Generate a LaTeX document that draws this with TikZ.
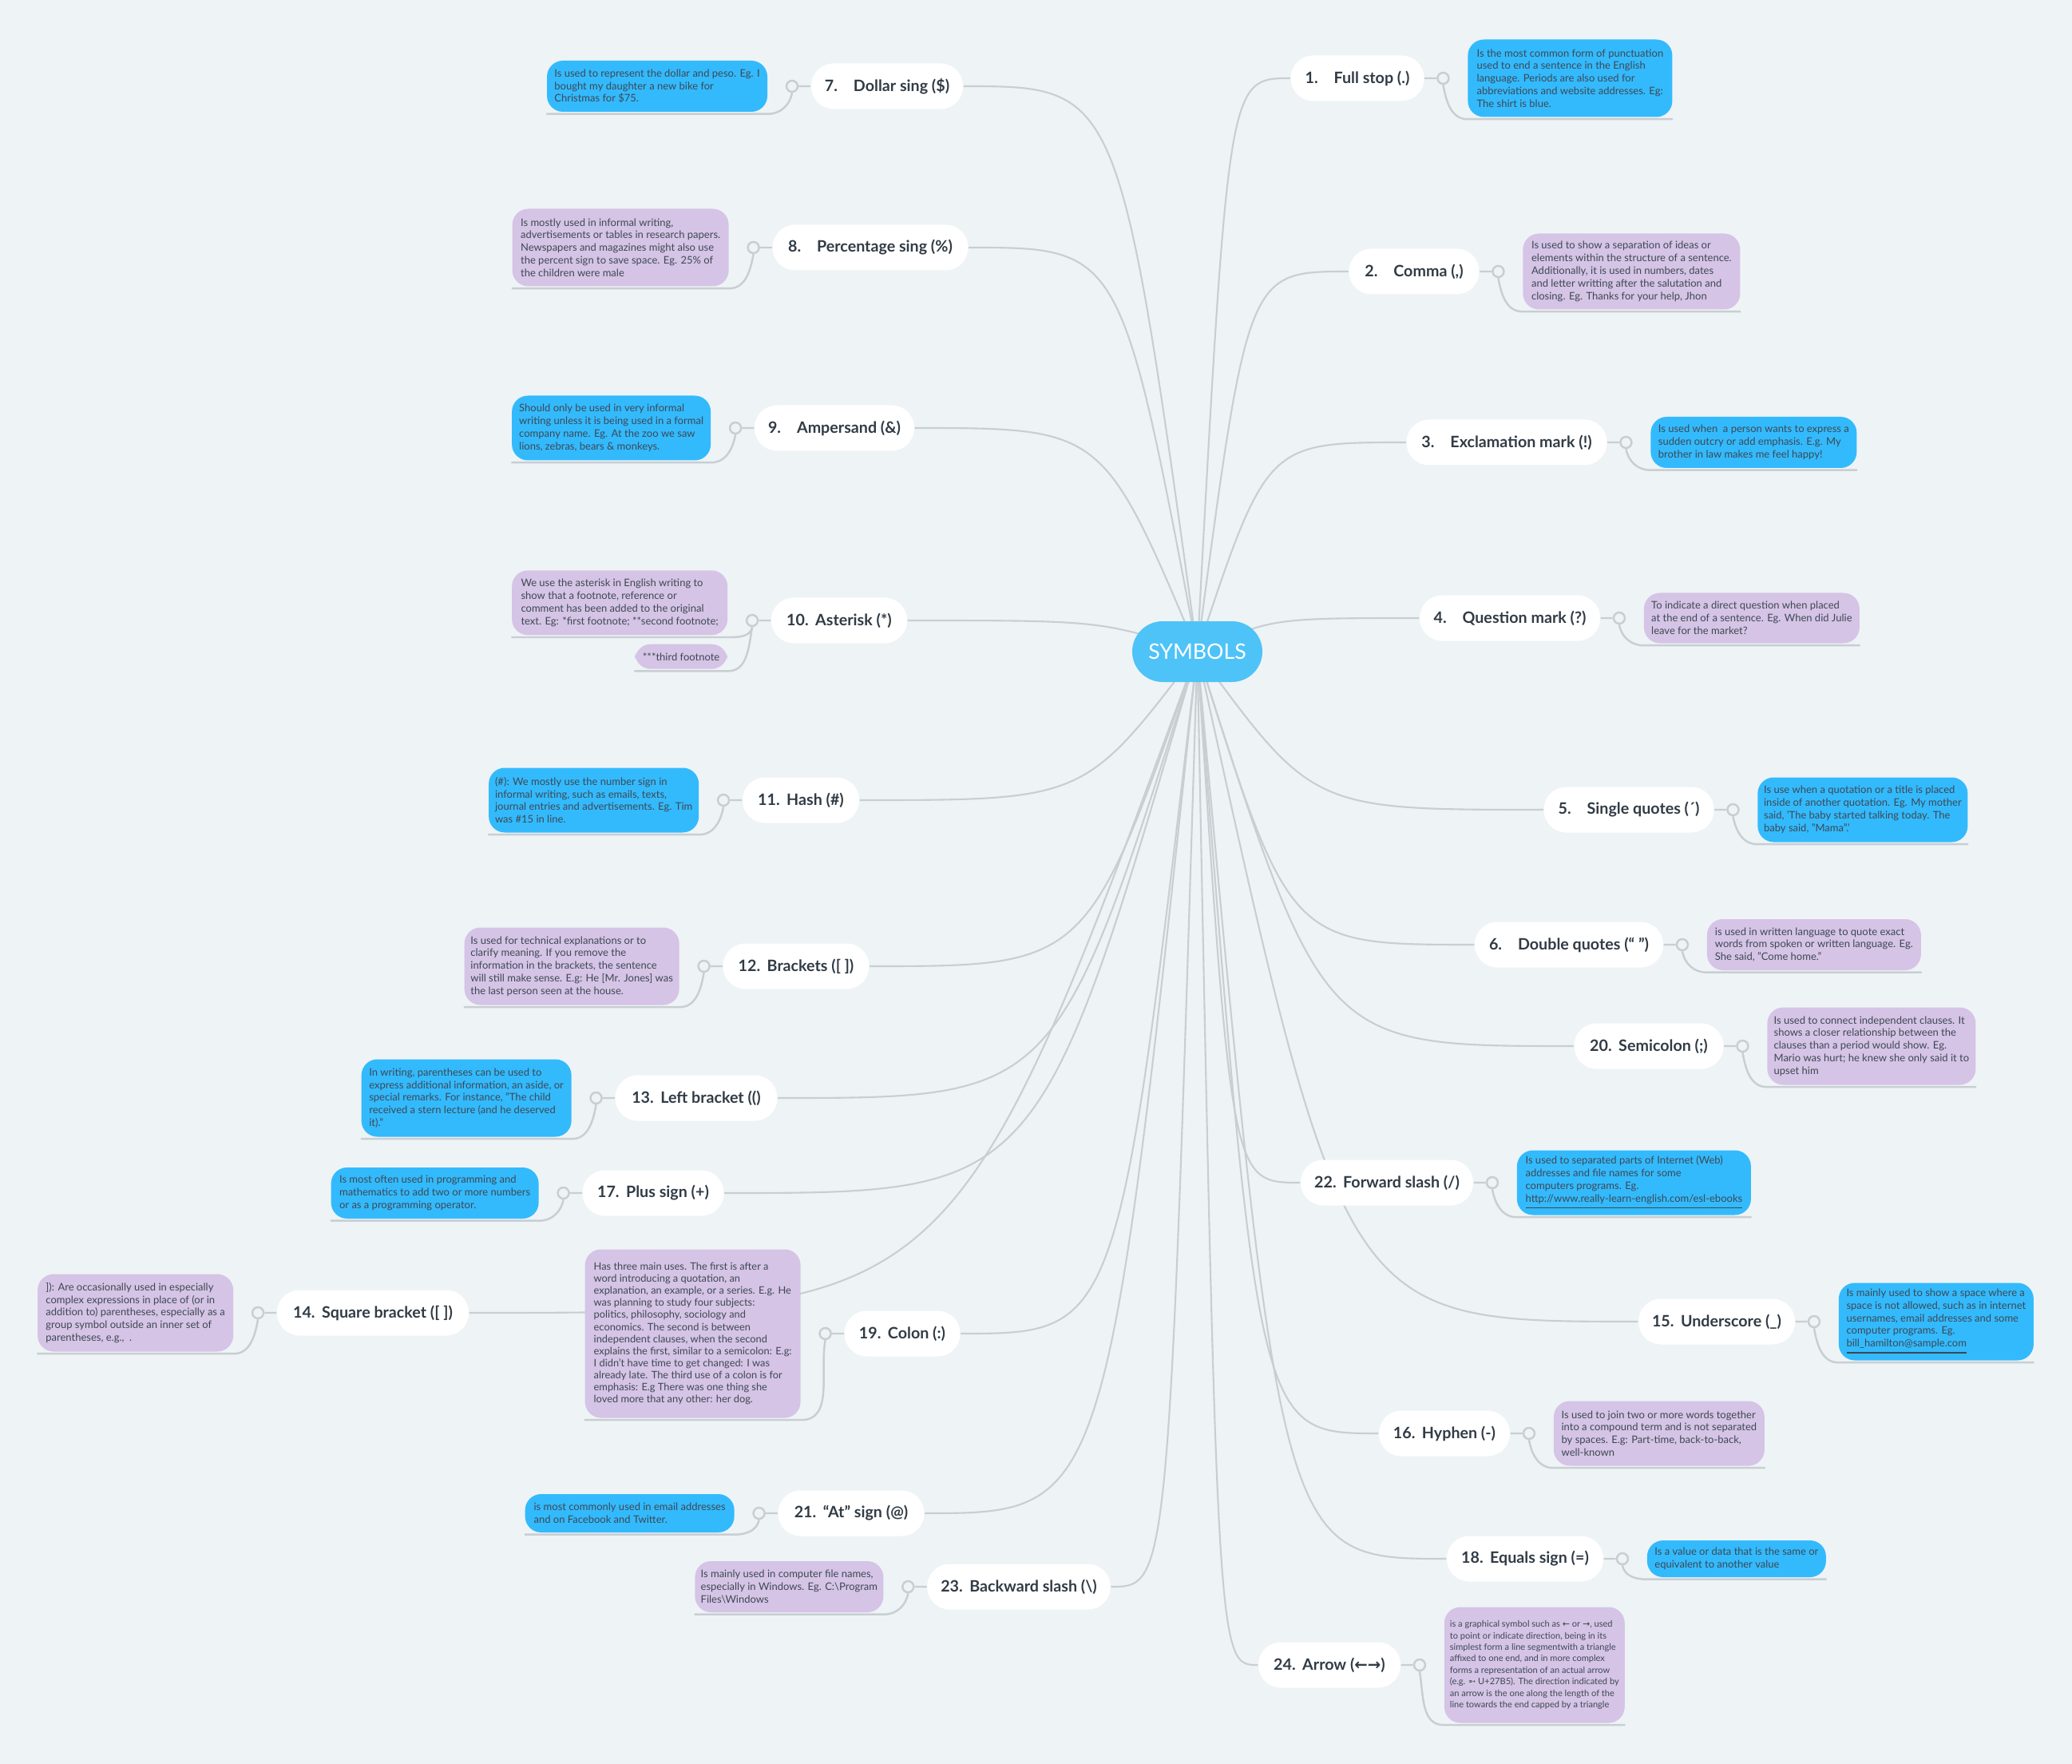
\documentclass[tikz,border=0pt]{standalone}
\usepackage{fontspec}
\setmainfont{Lato}
\newfontfamily\arrowfont{DejaVu Sans}
\usetikzlibrary{positioning,calc}
\definecolor{bgcol}{HTML}{EEF3F6}
\definecolor{linecol}{HTML}{C9CED3}
\definecolor{hubcol}{HTML}{4EC3F8}
\definecolor{skyblue}{HTML}{33BAFD}
\definecolor{lilac}{HTML}{D5C4E6}
\definecolor{inkcol}{HTML}{313B45}
\definecolor{notetext}{HTML}{3E4853}
\pgfdeclarelayer{bg}
\pgfdeclarelayer{edges}
\pgfsetlayers{bg,edges,main}
\newcommand{\tabno}[1]{\makebox[0.36cm][l]{#1}}
\newcommand{\notesize}{\fontsize{3.7}{4.5}\selectfont}

\begin{document}
\begin{tikzpicture}[
  hub/.style={fill=hubcol, text=white, rounded corners=0.38cm, minimum width=1.63cm, minimum height=0.76cm, font=\fontsize{7.6}{9}\selectfont},
  topic/.style={fill=white, text=inkcol, rounded corners=0.28cm, minimum height=0.57cm, inner xsep=0.17cm, font=\bfseries\fontsize{5.6}{6.7}\selectfont},
  dot/.style={circle, draw=linecol, fill=bgcol, line width=0.7pt, inner sep=0pt, minimum size=0.14cm},
  note/.style={rounded corners=0.2cm, align=left, inner xsep=0.07cm, inner ysep=0.06cm, font=\notesize, text=notetext},
  bnote/.style={note, fill=skyblue},
  pnote/.style={note, fill=lilac},
  limb/.style={draw=linecol, line width=0.6pt, to path={let \p1=(\tikztostart), \p2=(\tikztotarget) in .. controls ({\x1+(\x2-\x1)/3},\y2) .. (\tikztotarget)}},
  twig/.style={draw=linecol, line width=0.7pt}]
  \useasboundingbox (0,0) rectangle (25.95,-22.09);
  \begin{pgfonlayer}{bg}
    \fill[bgcol] (0,0) rectangle (25.95,-22.09);
  \end{pgfonlayer}

  \node[hub] (root) at (14.995,-8.16) {SYMBOLS};

  % right branches
  \node[topic, minimum width=1.67cm] (s1) at (17.00,-0.98) {\tabno{1.}Full stop (.)};
  \node[dot, right=0.15cm of s1] (c1) {};
  \node[bnote, right=0.22cm of c1, minimum width=2.56cm, minimum height=0.97cm] (n1) {Is the most common form of punctuation\\used to end a sentence in the English\\language. Periods are also used for\\abbreviations and website addresses. Eg:\\The shirt is blue.};

  \node[topic, minimum width=1.63cm] (s2) at (17.71,-3.40) {\tabno{2.}Comma (,)};
  \node[dot, right=0.15cm of s2] (c2) {};
  \node[pnote, right=0.22cm of c2, minimum width=2.72cm, minimum height=0.95cm] (n2) {Is used to show a separation of ideas or\\elements within the structure of a sentence.\\Additionally, it is used in numbers, dates\\and letter writting after the salutation and\\closing. Eg. Thanks for your help, Jhon};

  \node[topic, minimum width=2.51cm] (s3) at (18.87,-5.54) {\tabno{3.}Exclamation mark (!)};
  \node[dot, right=0.15cm of s3] (c3) {};
  \node[bnote, right=0.22cm of c3, minimum width=2.58cm, minimum height=0.64cm] (n3) {Is used when\ \ a person wants to express a\\sudden outcry or add emphasis. E.g. My\\brother in law makes me feel happy!};

  \node[topic, minimum width=2.26cm] (s4) at (18.91,-7.74) {\tabno{4.}Question mark (?)};
  \node[dot, right=0.15cm of s4] (c4) {};
  \node[pnote, right=0.22cm of c4, minimum width=2.70cm, minimum height=0.63cm] (n4) {To indicate a direct question when placed\\at the end of a sentence. Eg. When did Julie\\leave for the market?};

  \node[topic, minimum width=2.13cm] (s5) at (20.40,-10.14) {\tabno{5.}Single quotes (´)};
  \node[dot, right=0.15cm of s5] (c5) {};
  \node[bnote, right=0.22cm of c5, minimum width=2.63cm, minimum height=0.81cm] (n5) {Is use when a quotation or a title is placed\\inside of another quotation. Eg. My mother\\said, 'The baby started talking today. The\\baby said, "Mama".'};

  \node[topic, minimum width=2.36cm] (s6) at (19.65,-11.83) {\tabno{6.}Double quotes (“ ”)};
  \node[dot, right=0.15cm of s6] (c6) {};
  \node[pnote, right=0.22cm of c6, minimum width=2.68cm, minimum height=0.64cm] (n6) {is used in written language to quote exact\\words from spoken or written language. Eg.\\She said, "Come home."};

  \node[topic, minimum width=1.87cm] (s20) at (20.65,-13.10) {\tabno{20.}Semicolon (;)};
  \node[dot, right=0.15cm of s20] (c20) {};
  \node[pnote, right=0.22cm of c20, minimum width=2.61cm, minimum height=0.97cm] (n20) {Is used to connect independent clauses. It\\shows a closer relationship between the\\clauses than a period would show. Eg.\\Mario was hurt; he knew she only said it to\\upset him};

  \node[topic, minimum width=2.16cm] (s22) at (17.37,-14.81) {\tabno{22.}Forward slash (/)};
  \node[dot, right=0.15cm of s22] (c22) {};
  \node[bnote, right=0.22cm of c22, minimum width=2.93cm, minimum height=0.81cm] (n22) {Is used to separated parts of Internet (Web)\\addresses and file names for some\\computers programs. Eg.\\\underline{http://www.really-learn-english.com/esl-ebooks}};

  \node[topic, minimum width=1.96cm] (s15) at (21.50,-16.55) {\tabno{15.}Underscore (\_)};
  \node[dot, right=0.15cm of s15] (c15) {};
  \node[bnote, right=0.22cm of c15, minimum width=2.44cm, minimum height=0.97cm] (n15) {Is mainly used to show a space where a\\space is not allowed, such as in internet\\usernames, email addresses and some\\computer programs. Eg.\\\underline{bill\_hamilton@sample.com}};

  \node[topic, minimum width=1.64cm] (s16) at (18.09,-17.95) {\tabno{16.}Hyphen (-)};
  \node[dot, right=0.15cm of s16] (c16) {};
  \node[pnote, right=0.22cm of c16, minimum width=2.64cm, minimum height=0.81cm] (n16) {Is used to join two or more words together\\into a compound term and is not separated\\by spaces. E.g: Part-time, back-to-back,\\well-known};

  \node[topic, minimum width=1.96cm] (s18) at (19.10,-19.52) {\tabno{18.}Equals sign (=)};
  \node[dot, right=0.15cm of s18] (c18) {};
  \node[bnote, right=0.22cm of c18, minimum width=2.24cm, minimum height=0.46cm] (n18) {Is a value or data that is the same or\\equivalent to another value};

  \node[topic, minimum width=1.78cm] (s24) at (16.65,-20.85) {\tabno{24.}Arrow ({\arrowfont ←→})};
  \node[dot, right=0.15cm of s24] (c24) {};
  \node[pnote, right=0.22cm of c24, minimum width=2.21cm, minimum height=1.45cm, font=\fontsize{3.15}{4.1}\selectfont] (n24) {is a graphical symbol such as {\arrowfont ←} or {\arrowfont →}, used\\to point or indicate direction, being in its\\simplest form a line segmentwith a triangle\\affixed to one end, and in more complex\\forms a representation of an actual arrow\\(e.g. {\arrowfont ➵} U+27B5). The direction indicated by\\an arrow is the one along the length of the\\line towards the end capped by a triangle};

  % left branches
  \node[topic, minimum width=1.90cm] (s7) at (11.11,-1.08) {\tabno{7.}Dollar sing (\$)};
  \node[dot, left=0.15cm of s7] (c7) {};
  \node[bnote, left=0.22cm of c7, minimum width=2.76cm, minimum height=0.64cm] (n7) {Is used to represent the dollar and peso. Eg. I\\bought my daughter a new bike for\\Christmas for \$75.};

  \node[topic, minimum width=2.45cm] (s8) at (10.90,-3.10) {\tabno{8.}Percentage sing (\%)};
  \node[dot, left=0.15cm of s8] (c8) {};
  \node[pnote, left=0.22cm of c8, minimum width=2.71cm, minimum height=0.97cm] (n8) {Is mostly used in informal writing,\\advertisements or tables in research papers.\\Newspapers and magazines might also use\\the percent sign to save space. Eg. 25\% of\\the children were male};

  \node[topic, minimum width=2.00cm] (s9) at (10.45,-5.36) {\tabno{9.}Ampersand (\&)};
  \node[dot, left=0.15cm of s9] (c9) {};
  \node[bnote, left=0.22cm of c9, minimum width=2.49cm, minimum height=0.81cm] (n9) {Should only be used in very informal\\writing unless it is being used in a formal\\company name. Eg. At the zoo we saw\\lions, zebras, bears \& monkeys.};

  \node[topic, minimum width=1.70cm] (s10) at (10.51,-7.77) {\tabno{10.}Asterisk (*)};
  \node[dot, left=0.15cm of s10] (c10) {};
  \node[pnote, above left=-0.19cm and 0.22cm of c10.west, minimum width=2.70cm, minimum height=0.81cm] (n10a) {We use the asterisk in English writing to\\show that a footnote, reference or\\comment has been added to the original\\text. Eg: *first footnote; **second footnote;};
  \node[pnote, below=0.10cm of n10a.south east, anchor=north east, minimum width=1.16cm, minimum height=0.31cm] (n10b) {***third footnote};

  \node[topic, minimum width=1.46cm] (s11) at (10.03,-10.02) {\tabno{11.}Hash (\#)};
  \node[dot, left=0.15cm of s11] (c11) {};
  \node[bnote, left=0.22cm of c11, minimum width=2.63cm, minimum height=0.81cm] (n11) {(\#): We mostly use the number sign in\\informal writing, such as emails, texts,\\journal entries and advertisements. Eg. Tim\\was \#15 in line.};

  \node[topic, minimum width=1.83cm] (s12) at (9.97,-12.10) {\tabno{12.}Brackets ([ ])};
  \node[dot, left=0.15cm of s12] (c12) {};
  \node[pnote, left=0.22cm of c12, minimum width=2.69cm, minimum height=0.97cm] (n12) {Is used for technical explanations or to\\clarify meaning. If you remove the\\information in the brackets, the sentence\\will still make sense. E.g: He [Mr. Jones] was\\the last person seen at the house.};

  \node[topic, minimum width=2.03cm] (s13) at (8.72,-13.75) {\tabno{13.}Left bracket (()};
  \node[dot, left=0.15cm of s13] (c13) {};
  \node[bnote, left=0.22cm of c13, minimum width=2.63cm, minimum height=0.97cm] (n13) {In writing, parentheses can be used to\\express additional information, an aside, or\\special remarks. For instance, "The child\\received a stern lecture (and he deserved\\it)."};

  \node[topic, minimum width=1.77cm] (s17) at (8.18,-14.94) {\tabno{17.}Plus sign (+)};
  \node[dot, left=0.15cm of s17] (c17) {};
  \node[bnote, left=0.22cm of c17, minimum width=2.60cm, minimum height=0.64cm] (n17) {Is most often used in programming and\\mathematics to add two or more numbers\\or as a programming operator.};

  \node[topic, minimum width=2.40cm] (s14) at (4.67,-16.44) {\tabno{14.}Square bracket ([ ])};
  \node[dot, left=0.15cm of s14] (c14) {};
  \node[pnote, left=0.22cm of c14, minimum width=2.45cm, minimum height=0.97cm] (n14) {]): Are occasionally used in especially\\complex expressions in place of (or in\\addition to) parentheses, especially as a\\group symbol outside an inner set of\\parentheses, e.g.,\ \ .};

  \node[topic, minimum width=1.45cm] (s19) at (11.30,-16.70) {\tabno{19.}Colon (:)};
  \node[dot, left=0.15cm of s19] (c19) {};
  \node[pnote, left=0.22cm of c19, minimum width=2.70cm, minimum height=2.11cm, font=\fontsize{3.65}{4.3}\selectfont] (n19) {Has three main uses. The first is after a\\word introducing a quotation, an\\explanation, an example, or a series. E.g. He\\was planning to study four subjects:\\politics, philosophy, sociology and\\economics. The second is between\\independent clauses, when the second\\explains the first, similar to a semicolon: E.g:\\I didn’t have time to get changed: I was\\already late. The third use of a colon is for\\emphasis: E.g There was one thing she\\loved more that any other: her dog.};

  \node[topic, minimum width=1.83cm] (s21) at (10.66,-18.95) {\tabno{21.}“At” sign (@)};
  \node[dot, left=0.15cm of s21] (c21) {};
  \node[bnote, left=0.22cm of c21, minimum width=2.62cm, minimum height=0.48cm] (n21) {is most commonly used in email addresses\\and on Facebook and Twitter.};

  \node[topic, minimum width=2.28cm] (s23) at (12.76,-19.87) {\tabno{23.}Backward slash (\textbackslash)};
  \node[dot, left=0.15cm of s23] (c23) {};
  \node[pnote, left=0.22cm of c23, minimum width=2.36cm, minimum height=0.64cm] (n23) {Is mainly used in computer file names,\\especially in Windows. Eg. C:\textbackslash Program\\Files\textbackslash Windows};

  % note connectors
  \draw[twig] (s1.east) -- (c1.west) (c1.south) to[out=-80, in=180] ([yshift=-0.02cm]n1.south west) -- ([yshift=-0.02cm]n1.south east);
  \draw[twig] (s2.east) -- (c2.west) (c2.south) to[out=-80, in=180] ([yshift=-0.02cm]n2.south west) -- ([yshift=-0.02cm]n2.south east);
  \draw[twig] (s3.east) -- (c3.west) (c3.south) to[out=-80, in=180] ([yshift=-0.02cm]n3.south west) -- ([yshift=-0.02cm]n3.south east);
  \draw[twig] (s4.east) -- (c4.west) (c4.south) to[out=-80, in=180] ([yshift=-0.02cm]n4.south west) -- ([yshift=-0.02cm]n4.south east);
  \draw[twig] (s5.east) -- (c5.west) (c5.south) to[out=-80, in=180] ([yshift=-0.02cm]n5.south west) -- ([yshift=-0.02cm]n5.south east);
  \draw[twig] (s6.east) -- (c6.west) (c6.south) to[out=-80, in=180] ([yshift=-0.02cm]n6.south west) -- ([yshift=-0.02cm]n6.south east);
  \draw[twig] (s20.east) -- (c20.west) (c20.south) to[out=-80, in=180] ([yshift=-0.02cm]n20.south west) -- ([yshift=-0.02cm]n20.south east);
  \draw[twig] (s22.east) -- (c22.west) (c22.south) to[out=-80, in=180] ([yshift=-0.02cm]n22.south west) -- ([yshift=-0.02cm]n22.south east);
  \draw[twig] (s15.east) -- (c15.west) (c15.south) to[out=-80, in=180] ([yshift=-0.02cm]n15.south west) -- ([yshift=-0.02cm]n15.south east);
  \draw[twig] (s16.east) -- (c16.west) (c16.south) to[out=-80, in=180] ([yshift=-0.02cm]n16.south west) -- ([yshift=-0.02cm]n16.south east);
  \draw[twig] (s18.east) -- (c18.west) (c18.south) to[out=-80, in=180] ([yshift=-0.02cm]n18.south west) -- ([yshift=-0.02cm]n18.south east);
  \draw[twig] (s24.east) -- (c24.west) (c24.south) to[out=-80, in=180] ([yshift=-0.02cm]n24.south west) -- ([yshift=-0.02cm]n24.south east);
  \draw[twig] (s7.west) -- (c7.east) (c7.south) to[out=-100, in=0] ([yshift=-0.02cm]n7.south east) -- ([yshift=-0.02cm]n7.south west);
  \draw[twig] (s8.west) -- (c8.east) (c8.south) to[out=-100, in=0] ([yshift=-0.02cm]n8.south east) -- ([yshift=-0.02cm]n8.south west);
  \draw[twig] (s9.west) -- (c9.east) (c9.south) to[out=-100, in=0] ([yshift=-0.02cm]n9.south east) -- ([yshift=-0.02cm]n9.south west);
  \draw[twig] (s10.west) -- (c10.east) (c10.south) to[out=-100, in=0] ([yshift=-0.02cm]n10a.south east) -- ([yshift=-0.02cm]n10a.south west);
  \draw[twig] (c10.south) to[out=-100, in=0] ([yshift=-0.02cm]n10b.south east) -- ([yshift=-0.02cm]n10b.south west);
  \draw[twig] (s11.west) -- (c11.east) (c11.south) to[out=-100, in=0] ([yshift=-0.02cm]n11.south east) -- ([yshift=-0.02cm]n11.south west);
  \draw[twig] (s12.west) -- (c12.east) (c12.south) to[out=-100, in=0] ([yshift=-0.02cm]n12.south east) -- ([yshift=-0.02cm]n12.south west);
  \draw[twig] (s13.west) -- (c13.east) (c13.south) to[out=-100, in=0] ([yshift=-0.02cm]n13.south east) -- ([yshift=-0.02cm]n13.south west);
  \draw[twig] (s17.west) -- (c17.east) (c17.south) to[out=-100, in=0] ([yshift=-0.02cm]n17.south east) -- ([yshift=-0.02cm]n17.south west);
  \draw[twig] (s14.west) -- (c14.east) (c14.south) to[out=-100, in=0] ([yshift=-0.02cm]n14.south east) -- ([yshift=-0.02cm]n14.south west);
  \draw[twig] (s19.west) -- (c19.east) (c19.south) to[out=-100, in=0] ([yshift=-0.02cm]n19.south east) -- ([yshift=-0.02cm]n19.south west);
  \draw[twig] (s21.west) -- (c21.east) (c21.south) to[out=-100, in=0] ([yshift=-0.02cm]n21.south east) -- ([yshift=-0.02cm]n21.south west);
  \draw[twig] (s23.west) -- (c23.east) (c23.south) to[out=-100, in=0] ([yshift=-0.02cm]n23.south east) -- ([yshift=-0.02cm]n23.south west);

  % branches from the hub
  \begin{pgfonlayer}{edges}
    \draw[limb] (root.center) to (s1.west);
    \draw[limb] (root.center) to (s2.west);
    \draw[limb] (root.center) to (s3.west);
    \draw[limb] (root.center) to (s4.west);
    \draw[limb] (root.center) to (s5.west);
    \draw[limb] (root.center) to (s6.west);
    \draw[limb] (root.center) to (s20.west);
    \draw[limb] (root.center) to (s22.west);
    \draw[limb] (root.center) to (s15.west);
    \draw[limb] (root.center) to (s16.west);
    \draw[limb] (root.center) to (s18.west);
    \draw[limb] (root.center) to (s24.west);
    \draw[limb] (root.center) to (s7.east);
    \draw[limb] (root.center) to (s8.east);
    \draw[limb] (root.center) to (s9.east);
    \draw[limb] (root.center) to (s10.east);
    \draw[limb] (root.center) to (s11.east);
    \draw[limb] (root.center) to (s12.east);
    \draw[limb] (root.center) to (s13.east);
    \draw[limb] (root.center) to (s17.east);
    \draw[limb] (root.center) to (s14.east);
    \draw[limb] (root.center) to (s19.east);
    \draw[limb] (root.center) to (s21.east);
    \draw[limb] (root.center) to (s23.east);
  \end{pgfonlayer}
\end{tikzpicture}
\end{document}
